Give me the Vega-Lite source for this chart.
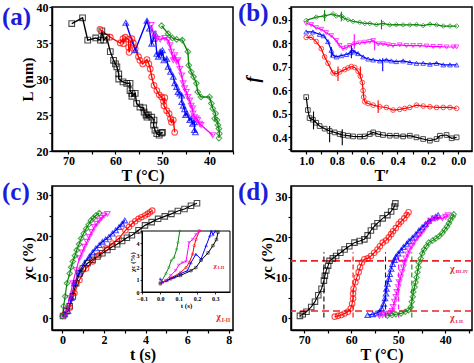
{
"$schema": "https://vega.github.io/schema/vega-lite/v6.json",
"padding": {"left": 1, "top": 0, "right": 0, "bottom": 0},
"background": "white",
"config": {
  "view": {"stroke": "black", "strokeWidth": 1.5},
  "axis": {"labelFont": "Liberation Serif", "labelFontWeight": "bold", "labelFontSize": 12, "labelColor": "black", "titleFont": "Liberation Serif", "titleFontWeight": "bold", "titleFontSize": 16, "titleColor": "black", "domainColor": "black", "domainWidth": 1.5, "tickColor": "black", "tickSize": 3, "tickWidth": 1.2, "grid": false, "labelPadding": 1, "titlePadding": 1, "labelOverlap": false, "labelFlush": false},
  "title": {"anchor": "start", "frame": "group", "font": "Liberation Serif", "fontSize": 25, "fontWeight": "bold", "color": "#1c1cdc"},
  "text": {"font": "Liberation Serif", "fontWeight": "bold", "color": "#e8262a"}
},
"columns": 2,
"align": "each",
"spacing": {"row": -5, "column": 2},
"datasets": {
  "a": [
    {"s":"k","x":69.3,"y":37.7},{"s":"k","x":67.0,"y":38.5},{"s":"k","x":65.9,"y":35.4},{"s":"k","x":64.2,"y":35.7},{"s":"k","x":63.2,"y":35.4},{"s":"k","x":62.9,"y":36.7},{"s":"k","x":62.5,"y":35.4},{"s":"k","x":61.9,"y":35.8},{"s":"k","x":61.1,"y":33.8},{"s":"k","x":60.4,"y":32.6},{"s":"k","x":60.0,"y":32.1},{"s":"k","x":59.7,"y":31.7},{"s":"k","x":59.3,"y":30.7},{"s":"k","x":59.3,"y":30.0},{"s":"k","x":58.4,"y":29.6},{"s":"k","x":57.6,"y":29.4},{"s":"k","x":56.9,"y":29.4},{"s":"k","x":56.9,"y":28.4},{"s":"k","x":56.5,"y":28.0},{"s":"k","x":56.5,"y":27.6},{"s":"k","x":55.8,"y":28.0},{"s":"k","x":55.5,"y":26.6},{"s":"k","x":54.8,"y":26.1},{"s":"k","x":54.0,"y":26.0},{"s":"k","x":53.9,"y":25.4},{"s":"k","x":53.5,"y":25.0},{"s":"k","x":53.3,"y":24.7},{"s":"k","x":53.0,"y":25.0},{"s":"k","x":52.3,"y":24.7},{"s":"k","x":51.8,"y":24.3},{"s":"k","x":51.9,"y":23.6},{"s":"k","x":51.6,"y":22.9},{"s":"k","x":51.2,"y":22.4},{"s":"k","x":50.7,"y":22.2},{"s":"k","x":50.2,"y":22.5},{"s":"k","x":50.0,"y":22.6},
    {"s":"r","x":63.3,"y":36.9},{"s":"r","x":61.1,"y":35.8},{"s":"r","x":59.0,"y":35.0},{"s":"r","x":58.4,"y":35.6},{"s":"r","x":58.3,"y":34.9},{"s":"r","x":57.9,"y":35.8},{"s":"r","x":57.2,"y":35.5},{"s":"r","x":57.2,"y":34.4},{"s":"r","x":57.1,"y":33.7},{"s":"r","x":56.5,"y":35.6},{"s":"r","x":56.2,"y":35.0},{"s":"r","x":55.8,"y":34.2},{"s":"r","x":55.1,"y":33.1},{"s":"r","x":54.8,"y":32.6},{"s":"r","x":54.2,"y":32.1},{"s":"r","x":53.3,"y":32.7},{"s":"r","x":52.9,"y":32.1},{"s":"r","x":52.6,"y":31.4},{"s":"r","x":52.3,"y":30.3},{"s":"r","x":51.8,"y":29.1},{"s":"r","x":51.2,"y":28.4},{"s":"r","x":50.7,"y":27.8},{"s":"r","x":50.2,"y":27.5},{"s":"r","x":49.8,"y":26.9},{"s":"r","x":49.5,"y":27.4},{"s":"r","x":49.7,"y":26.3},{"s":"r","x":49.1,"y":25.6},{"s":"r","x":48.6,"y":25.2},{"s":"r","x":48.3,"y":24.5},{"s":"r","x":48.1,"y":24.0},{"s":"r","x":47.7,"y":24.3},{"s":"r","x":47.4,"y":22.6},
    {"s":"b","x":57.8,"y":37.8},{"s":"b","x":55.8,"y":34.0},{"s":"b","x":53.3,"y":38.1},{"s":"b","x":52.8,"y":37.0},{"s":"b","x":52.3,"y":34.9},{"s":"b","x":51.9,"y":35.6},{"s":"b","x":51.6,"y":36.3},{"s":"b","x":51.2,"y":33.5},{"s":"b","x":50.9,"y":33.1},{"s":"b","x":50.5,"y":33.8},{"s":"b","x":50.2,"y":33.3},{"s":"b","x":50.0,"y":34.0},{"s":"b","x":49.7,"y":32.6},{"s":"b","x":49.1,"y":32.8},{"s":"b","x":48.8,"y":31.7},{"s":"b","x":48.3,"y":31.0},{"s":"b","x":47.7,"y":30.3},{"s":"b","x":47.4,"y":29.4},{"s":"b","x":47.0,"y":28.9},{"s":"b","x":46.7,"y":28.2},{"s":"b","x":46.3,"y":28.0},{"s":"b","x":45.9,"y":27.7},{"s":"b","x":45.9,"y":26.8},{"s":"b","x":45.6,"y":26.3},{"s":"b","x":45.3,"y":25.8},{"s":"b","x":45.1,"y":25.0},{"s":"b","x":44.8,"y":25.2},{"s":"b","x":44.2,"y":24.3},{"s":"b","x":43.9,"y":24.5},{"s":"b","x":43.6,"y":23.8},{"s":"b","x":43.2,"y":24.0},{"s":"b","x":43.2,"y":22.9},{"s":"b","x":43.0,"y":22.6},
    {"s":"m","x":52.4,"y":37.5},{"s":"m","x":51.9,"y":36.3},{"s":"m","x":51.2,"y":35.6},{"s":"m","x":50.5,"y":35.5},{"s":"m","x":49.5,"y":35.7},{"s":"m","x":48.8,"y":35.4},{"s":"m","x":48.4,"y":34.7},{"s":"m","x":48.1,"y":33.8},{"s":"m","x":47.7,"y":32.6},{"s":"m","x":47.4,"y":33.3},{"s":"m","x":47.0,"y":32.4},{"s":"m","x":46.7,"y":32.6},{"s":"m","x":46.3,"y":31.4},{"s":"m","x":45.9,"y":30.5},{"s":"m","x":45.6,"y":29.4},{"s":"m","x":45.3,"y":28.7},{"s":"m","x":44.9,"y":28.2},{"s":"m","x":44.6,"y":27.5},{"s":"m","x":44.2,"y":27.0},{"s":"m","x":43.9,"y":26.3},{"s":"m","x":43.6,"y":25.9},{"s":"m","x":43.5,"y":25.2},{"s":"m","x":43.2,"y":24.7},{"s":"m","x":42.8,"y":24.5},{"s":"m","x":42.5,"y":24.3},{"s":"m","x":42.1,"y":23.8},{"s":"m","x":41.8,"y":23.6},{"s":"m","x":39.3,"y":22.2},
    {"s":"g","x":50.2,"y":37.4},{"s":"g","x":48.8,"y":36.3},{"s":"g","x":47.9,"y":35.7},{"s":"g","x":47.0,"y":35.5},{"s":"g","x":45.8,"y":35.4},{"s":"g","x":44.6,"y":33.8},{"s":"g","x":44.4,"y":31.9},{"s":"g","x":43.9,"y":31.0},{"s":"g","x":43.4,"y":30.3},{"s":"g","x":42.8,"y":29.4},{"s":"g","x":42.5,"y":28.2},{"s":"g","x":41.8,"y":27.5},{"s":"g","x":40.0,"y":27.5},{"s":"g","x":39.6,"y":26.6},{"s":"g","x":39.3,"y":25.9},{"s":"g","x":38.7,"y":25.2},{"s":"g","x":38.9,"y":24.5},{"s":"g","x":38.4,"y":24.3},{"s":"g","x":38.2,"y":23.6},{"s":"g","x":38.0,"y":23.1},{"s":"g","x":37.9,"y":22.4},{"s":"g","x":38.0,"y":21.8}
  ],
  "b": [
    {"s":"k","x":1.0,"y":0.571},{"s":"k","x":0.989,"y":0.516},{"s":"k","x":0.978,"y":0.482},{"s":"k","x":0.956,"y":0.475},{"s":"k","x":0.934,"y":0.462},{"s":"k","x":0.912,"y":0.448},{"s":"k","x":0.879,"y":0.437},{"s":"k","x":0.846,"y":0.427},{"s":"k","x":0.813,"y":0.421},{"s":"k","x":0.78,"y":0.414},{"s":"k","x":0.758,"y":0.41},{"s":"k","x":0.725,"y":0.407},{"s":"k","x":0.692,"y":0.404},{"s":"k","x":0.648,"y":0.403},{"s":"k","x":0.615,"y":0.404},{"s":"k","x":0.582,"y":0.414},{"s":"k","x":0.56,"y":0.421},{"s":"k","x":0.527,"y":0.414},{"s":"k","x":0.495,"y":0.41},{"s":"k","x":0.451,"y":0.407},{"s":"k","x":0.407,"y":0.407},{"s":"k","x":0.363,"y":0.404},{"s":"k","x":0.319,"y":0.407},{"s":"k","x":0.275,"y":0.4},{"s":"k","x":0.231,"y":0.393},{"s":"k","x":0.187,"y":0.386},{"s":"k","x":0.143,"y":0.393},{"s":"k","x":0.121,"y":0.407},{"s":"k","x":0.077,"y":0.41},{"s":"k","x":0.044,"y":0.396},{"s":"k","x":0.011,"y":0.4},
    {"s":"r","x":1.0,"y":0.825},{"s":"r","x":0.967,"y":0.825},{"s":"r","x":0.934,"y":0.807},{"s":"r","x":0.901,"y":0.777},{"s":"r","x":0.879,"y":0.742},{"s":"r","x":0.857,"y":0.715},{"s":"r","x":0.824,"y":0.674},{"s":"r","x":0.802,"y":0.67},{"s":"r","x":0.78,"y":0.678},{"s":"r","x":0.747,"y":0.688},{"s":"r","x":0.725,"y":0.695},{"s":"r","x":0.703,"y":0.701},{"s":"r","x":0.681,"y":0.697},{"s":"r","x":0.659,"y":0.681},{"s":"r","x":0.644,"y":0.66},{"s":"r","x":0.631,"y":0.633},{"s":"r","x":0.626,"y":0.599},{"s":"r","x":0.622,"y":0.571},{"s":"r","x":0.615,"y":0.551},{"s":"r","x":0.593,"y":0.544},{"s":"r","x":0.56,"y":0.537},{"s":"r","x":0.516,"y":0.53},{"s":"r","x":0.473,"y":0.527},{"s":"r","x":0.429,"y":0.516},{"s":"r","x":0.385,"y":0.519},{"s":"r","x":0.352,"y":0.523},{"s":"r","x":0.319,"y":0.527},{"s":"r","x":0.275,"y":0.537},{"s":"r","x":0.231,"y":0.533},{"s":"r","x":0.187,"y":0.53},{"s":"r","x":0.143,"y":0.527},{"s":"r","x":0.099,"y":0.527},{"s":"r","x":0.055,"y":0.527},{"s":"r","x":0.011,"y":0.523},
    {"s":"b","x":1.0,"y":0.848},{"s":"b","x":0.956,"y":0.848},{"s":"b","x":0.912,"y":0.838},{"s":"b","x":0.886,"y":0.832},{"s":"b","x":0.857,"y":0.807},{"s":"b","x":0.835,"y":0.77},{"s":"b","x":0.824,"y":0.749},{"s":"b","x":0.802,"y":0.742},{"s":"b","x":0.769,"y":0.747},{"s":"b","x":0.736,"y":0.752},{"s":"b","x":0.71,"y":0.76},{"s":"b","x":0.697,"y":0.77},{"s":"b","x":0.681,"y":0.763},{"s":"b","x":0.659,"y":0.756},{"s":"b","x":0.626,"y":0.742},{"s":"b","x":0.593,"y":0.733},{"s":"b","x":0.56,"y":0.729},{"s":"b","x":0.516,"y":0.725},{"s":"b","x":0.473,"y":0.729},{"s":"b","x":0.44,"y":0.725},{"s":"b","x":0.407,"y":0.722},{"s":"b","x":0.363,"y":0.725},{"s":"b","x":0.319,"y":0.719},{"s":"b","x":0.275,"y":0.715},{"s":"b","x":0.231,"y":0.715},{"s":"b","x":0.187,"y":0.711},{"s":"b","x":0.143,"y":0.715},{"s":"b","x":0.099,"y":0.708},{"s":"b","x":0.055,"y":0.708},{"s":"b","x":0.011,"y":0.708},
    {"s":"m","x":1.0,"y":0.884},{"s":"m","x":0.967,"y":0.879},{"s":"m","x":0.934,"y":0.866},{"s":"m","x":0.901,"y":0.859},{"s":"m","x":0.868,"y":0.845},{"s":"m","x":0.835,"y":0.832},{"s":"m","x":0.802,"y":0.811},{"s":"m","x":0.78,"y":0.79},{"s":"m","x":0.758,"y":0.777},{"s":"m","x":0.736,"y":0.781},{"s":"m","x":0.714,"y":0.79},{"s":"m","x":0.681,"y":0.797},{"s":"m","x":0.648,"y":0.801},{"s":"m","x":0.615,"y":0.804},{"s":"m","x":0.582,"y":0.807},{"s":"m","x":0.56,"y":0.811},{"s":"m","x":0.527,"y":0.797},{"s":"m","x":0.495,"y":0.797},{"s":"m","x":0.462,"y":0.793},{"s":"m","x":0.429,"y":0.79},{"s":"m","x":0.385,"y":0.793},{"s":"m","x":0.341,"y":0.79},{"s":"m","x":0.297,"y":0.79},{"s":"m","x":0.253,"y":0.79},{"s":"m","x":0.209,"y":0.788},{"s":"m","x":0.165,"y":0.786},{"s":"m","x":0.121,"y":0.786},{"s":"m","x":0.077,"y":0.784},{"s":"m","x":0.033,"y":0.784},{"s":"m","x":0.011,"y":0.784},
    {"s":"g","x":1.0,"y":0.897},{"s":"g","x":0.934,"y":0.911},{"s":"g","x":0.879,"y":0.916},{"s":"g","x":0.824,"y":0.925},{"s":"g","x":0.802,"y":0.916},{"s":"g","x":0.769,"y":0.916},{"s":"g","x":0.754,"y":0.907},{"s":"g","x":0.725,"y":0.9},{"s":"g","x":0.692,"y":0.893},{"s":"g","x":0.648,"y":0.889},{"s":"g","x":0.615,"y":0.884},{"s":"g","x":0.582,"y":0.884},{"s":"g","x":0.538,"y":0.879},{"s":"g","x":0.495,"y":0.884},{"s":"g","x":0.451,"y":0.878},{"s":"g","x":0.407,"y":0.879},{"s":"g","x":0.363,"y":0.878},{"s":"g","x":0.319,"y":0.878},{"s":"g","x":0.275,"y":0.879},{"s":"g","x":0.231,"y":0.875},{"s":"g","x":0.187,"y":0.881},{"s":"g","x":0.143,"y":0.878},{"s":"g","x":0.099,"y":0.873},{"s":"g","x":0.055,"y":0.873},{"s":"g","x":0.011,"y":0.873}
  ],
  "bb": [
    {"s":"g","x":0.879,"y":0.893,"y2":0.941},{"s":"g","x":0.769,"y":0.893,"y2":0.934},{"s":"g","x":0.505,"y":0.859,"y2":0.9},
    {"s":"m","x":0.684,"y":0.777,"y2":0.838},{"s":"m","x":0.55,"y":0.77,"y2":0.81},
    {"s":"b","x":0.835,"y":0.742,"y2":0.784},{"s":"b","x":0.703,"y":0.736,"y2":0.79},{"s":"b","x":0.497,"y":0.681,"y2":0.736},
    {"s":"r","x":0.791,"y":0.64,"y2":0.701},{"s":"r","x":0.644,"y":0.653,"y2":0.701},{"s":"r","x":0.527,"y":0.503,"y2":0.558},
    {"s":"k","x":0.952,"y":0.434,"y2":0.51},{"s":"k","x":0.846,"y":0.379,"y2":0.448},{"s":"k","x":0.763,"y":0.366,"y2":0.434}
  ],
  "c": [
    {"s":"k","x":0.03,"y":0.5},{"s":"k","x":0.19,"y":1.7},{"s":"k","x":0.35,"y":2.9},{"s":"k","x":0.5,"y":5.3},{"s":"k","x":0.66,"y":8.5},{"s":"k","x":0.82,"y":10.9},{"s":"k","x":0.98,"y":12.1},{"s":"k","x":1.21,"y":13.4},{"s":"k","x":1.45,"y":14.2},{"s":"k","x":1.69,"y":15.0},{"s":"k","x":1.92,"y":15.8},{"s":"k","x":2.16,"y":16.6},{"s":"k","x":2.4,"y":17.4},{"s":"k","x":2.63,"y":18.0},{"s":"k","x":2.87,"y":18.8},{"s":"k","x":3.1,"y":19.6},{"s":"k","x":3.34,"y":20.2},{"s":"k","x":3.66,"y":21.4},{"s":"k","x":3.97,"y":22.6},{"s":"k","x":4.29,"y":23.4},{"s":"k","x":4.6,"y":24.2},{"s":"k","x":4.92,"y":24.8},{"s":"k","x":5.24,"y":25.4},{"s":"k","x":5.55,"y":26.1},{"s":"k","x":5.87,"y":26.6},{"s":"k","x":6.18,"y":27.4},{"s":"k","x":6.47,"y":28.0},
    {"s":"r","x":0.11,"y":0.9},{"s":"r","x":0.35,"y":2.5},{"s":"r","x":0.58,"y":6.1},{"s":"r","x":0.82,"y":9.3},{"s":"r","x":1.14,"y":12.1},{"s":"r","x":1.45,"y":13.8},{"s":"r","x":1.77,"y":15.4},{"s":"r","x":2.08,"y":17.0},{"s":"r","x":2.4,"y":18.2},{"s":"r","x":2.71,"y":19.4},{"s":"r","x":3.03,"y":21.4},{"s":"r","x":3.2,"y":22.2},{"s":"r","x":3.34,"y":23.0},{"s":"r","x":3.5,"y":23.6},{"s":"r","x":3.66,"y":24.2},{"s":"r","x":3.8,"y":24.6},{"s":"r","x":3.97,"y":25.0},{"s":"r","x":4.1,"y":25.4},{"s":"r","x":4.21,"y":25.8},{"s":"r","x":4.32,"y":26.2},
    {"s":"b","x":0.11,"y":0.9},{"s":"b","x":0.27,"y":1.7},{"s":"b","x":0.43,"y":4.9},{"s":"b","x":0.58,"y":8.5},{"s":"b","x":0.82,"y":11.3},{"s":"b","x":1.06,"y":13.4},{"s":"b","x":1.29,"y":15.0},{"s":"b","x":1.45,"y":16.0},{"s":"b","x":1.61,"y":17.0},{"s":"b","x":1.77,"y":17.8},{"s":"b","x":1.92,"y":18.6},{"s":"b","x":2.08,"y":19.2},{"s":"b","x":2.24,"y":19.8},{"s":"b","x":2.4,"y":20.6},{"s":"b","x":2.56,"y":21.4},{"s":"b","x":2.72,"y":22.2},{"s":"b","x":2.87,"y":23.0},{"s":"b","x":3.0,"y":23.8},
    {"s":"m","x":0.08,"y":0.5},{"s":"m","x":0.19,"y":2.1},{"s":"m","x":0.35,"y":4.9},{"s":"m","x":0.5,"y":8.5},{"s":"m","x":0.66,"y":11.7},{"s":"m","x":0.82,"y":14.6},{"s":"m","x":0.94,"y":16.0},{"s":"m","x":1.06,"y":17.4},{"s":"m","x":1.18,"y":18.6},{"s":"m","x":1.29,"y":19.8},{"s":"m","x":1.41,"y":21.0},{"s":"m","x":1.53,"y":22.2},{"s":"m","x":1.65,"y":23.0},{"s":"m","x":1.77,"y":23.8},{"s":"m","x":1.88,"y":24.4},{"s":"m","x":2.0,"y":25.0},{"s":"m","x":2.16,"y":25.4},
    {"s":"g","x":0.0,"y":0.5},{"s":"g","x":0.06,"y":2.9},{"s":"g","x":0.13,"y":5.3},{"s":"g","x":0.22,"y":8.5},{"s":"g","x":0.35,"y":10.9},{"s":"g","x":0.42,"y":12.4},{"s":"g","x":0.5,"y":13.8},{"s":"g","x":0.6,"y":15.2},{"s":"g","x":0.69,"y":16.6},{"s":"g","x":0.8,"y":18.0},{"s":"g","x":0.9,"y":19.4},{"s":"g","x":1.02,"y":20.6},{"s":"g","x":1.14,"y":21.8},{"s":"g","x":1.26,"y":22.8},{"s":"g","x":1.37,"y":23.8},{"s":"g","x":1.49,"y":24.4},{"s":"g","x":1.61,"y":25.0},{"s":"g","x":1.77,"y":25.6}
  ],
  "ci": [
    {"s":"k","x":0,"y":0.68},{"s":"k","x":0.056,"y":1.08},{"s":"k","x":0.11,"y":1.35},{"s":"k","x":0.167,"y":1.75},{"s":"k","x":0.194,"y":2.0},{"s":"k","x":0.222,"y":2.6},{"s":"k","x":0.26,"y":3.2},{"s":"k","x":0.287,"y":3.8},{"s":"k","x":0.306,"y":4.3},{"s":"k","x":0.315,"y":4.9},
    {"s":"r","x":0,"y":0.8},{"s":"r","x":0.03,"y":0.9},{"s":"r","x":0.065,"y":1.2},{"s":"r","x":0.11,"y":1.6},{"s":"r","x":0.14,"y":2.0},{"s":"r","x":0.157,"y":2.4},{"s":"r","x":0.176,"y":3.1},{"s":"r","x":0.185,"y":3.8},{"s":"r","x":0.194,"y":4.3},{"s":"r","x":0.213,"y":5.0},
    {"s":"b","x":0,"y":1.08},{"s":"b","x":0.01,"y":0.8},{"s":"b","x":0.037,"y":0.95},{"s":"b","x":0.074,"y":1.2},{"s":"b","x":0.11,"y":1.5},{"s":"b","x":0.148,"y":1.75},{"s":"b","x":0.167,"y":2.4},{"s":"b","x":0.194,"y":3.1},{"s":"b","x":0.222,"y":2.7},{"s":"b","x":0.25,"y":3.8},{"s":"b","x":0.27,"y":4.6},{"s":"b","x":0.278,"y":5.0},{"s":"b","x":0.287,"y":4.7},{"s":"b","x":0.3,"y":5.0},
    {"s":"m","x":0,"y":0.68},{"s":"m","x":0.03,"y":0.95},{"s":"m","x":0.056,"y":1.35},{"s":"m","x":0.083,"y":1.75},{"s":"m","x":0.1,"y":2.2},{"s":"m","x":0.12,"y":2.4},{"s":"m","x":0.14,"y":2.5},{"s":"m","x":0.157,"y":4.05},{"s":"m","x":0.176,"y":4.3},{"s":"m","x":0.194,"y":4.7},{"s":"m","x":0.213,"y":5.0},
    {"s":"g","x":0,"y":0.68},{"s":"g","x":0.03,"y":1.5},{"s":"g","x":0.046,"y":2.0},{"s":"g","x":0.06,"y":2.6},{"s":"g","x":0.074,"y":2.8},{"s":"g","x":0.089,"y":3.5},{"s":"g","x":0.096,"y":4.05},{"s":"g","x":0.106,"y":5.0}
  ],
  "d": [
    {"s":"k","x":70.9,"y":0.6},{"s":"k","x":70.3,"y":1.0},{"s":"k","x":69.5,"y":1.6},{"s":"k","x":68.5,"y":2.8},{"s":"k","x":67.7,"y":4.1},{"s":"k","x":67.0,"y":5.7},{"s":"k","x":66.3,"y":7.3},{"s":"k","x":65.8,"y":9.3},{"s":"k","x":65.6,"y":10.5},{"s":"k","x":65.3,"y":11.8},{"s":"k","x":64.9,"y":13.0},{"s":"k","x":64.6,"y":14.2},{"s":"k","x":63.9,"y":14.8},{"s":"k","x":63.2,"y":15.4},{"s":"k","x":62.3,"y":16.2},{"s":"k","x":61.4,"y":17.0},{"s":"k","x":60.4,"y":17.8},{"s":"k","x":59.3,"y":18.7},{"s":"k","x":58.2,"y":19.1},{"s":"k","x":57.2,"y":19.5},{"s":"k","x":56.5,"y":20.5},{"s":"k","x":55.8,"y":21.7},{"s":"k","x":55.1,"y":22.7},{"s":"k","x":54.4,"y":23.5},{"s":"k","x":53.3,"y":24.7},{"s":"k","x":52.3,"y":25.5},{"s":"k","x":51.5,"y":26.4},{"s":"k","x":50.8,"y":27.6},{"s":"k","x":50.6,"y":28.4},
    {"s":"r","x":63.5,"y":0.4},{"s":"r","x":62.8,"y":0.6},{"s":"r","x":62.1,"y":0.8},{"s":"r","x":61.4,"y":1.2},{"s":"r","x":60.7,"y":1.6},{"s":"r","x":60.1,"y":2.4},{"s":"r","x":59.8,"y":3.6},{"s":"r","x":59.6,"y":4.9},{"s":"r","x":59.6,"y":6.1},{"s":"r","x":59.5,"y":7.3},{"s":"r","x":59.1,"y":8.9},{"s":"r","x":58.8,"y":10.1},{"s":"r","x":58.4,"y":11.4},{"s":"r","x":58.1,"y":12.6},{"s":"r","x":57.7,"y":13.8},{"s":"r","x":57.2,"y":14.6},{"s":"r","x":56.5,"y":14.8},{"s":"r","x":55.8,"y":15.4},{"s":"r","x":55.1,"y":16.2},{"s":"r","x":54.4,"y":17.0},{"s":"r","x":53.9,"y":17.8},{"s":"r","x":53.3,"y":18.7},{"s":"r","x":52.6,"y":19.2},{"s":"r","x":52.0,"y":20.0},{"s":"r","x":51.5,"y":20.8},{"s":"r","x":51.1,"y":21.5},{"s":"r","x":50.5,"y":22.3},{"s":"r","x":49.9,"y":23.3},{"s":"r","x":49.4,"y":23.9},{"s":"r","x":48.7,"y":24.7},{"s":"r","x":48.2,"y":25.5},{"s":"r","x":47.8,"y":26.2},
    {"s":"b","x":56.5,"y":0.8},{"s":"b","x":55.4,"y":1.0},{"s":"b","x":54.7,"y":1.2},{"s":"b","x":54.0,"y":1.6},{"s":"b","x":53.5,"y":2.4},{"s":"b","x":53.1,"y":3.6},{"s":"b","x":52.8,"y":4.9},{"s":"b","x":52.6,"y":6.1},{"s":"b","x":52.5,"y":7.3},{"s":"b","x":52.3,"y":8.5},{"s":"b","x":52.0,"y":9.7},{"s":"b","x":51.8,"y":10.9},{"s":"b","x":51.5,"y":12.2},{"s":"b","x":51.2,"y":13.4},{"s":"b","x":50.8,"y":14.4},{"s":"b","x":50.5,"y":15.2},{"s":"b","x":50.0,"y":16.0},{"s":"b","x":49.4,"y":16.8},{"s":"b","x":48.9,"y":17.6},{"s":"b","x":48.2,"y":18.4},{"s":"b","x":47.7,"y":19.1},{"s":"b","x":47.0,"y":19.9},{"s":"b","x":46.3,"y":20.7},{"s":"b","x":45.6,"y":21.7},{"s":"b","x":44.9,"y":22.5},{"s":"b","x":44.2,"y":23.3},{"s":"b","x":43.5,"y":24.1},{"s":"b","x":42.7,"y":24.7},{"s":"b","x":42.0,"y":25.1},{"s":"b","x":41.5,"y":25.5},
    {"s":"m","x":54.0,"y":0.6},{"s":"m","x":53.3,"y":0.8},{"s":"m","x":52.6,"y":1.0},{"s":"m","x":51.9,"y":1.2},{"s":"m","x":51.3,"y":1.8},{"s":"m","x":51.1,"y":2.8},{"s":"m","x":50.8,"y":4.1},{"s":"m","x":50.5,"y":5.3},{"s":"m","x":50.3,"y":6.5},{"s":"m","x":50.0,"y":7.7},{"s":"m","x":49.8,"y":8.9},{"s":"m","x":49.5,"y":10.1},{"s":"m","x":49.2,"y":11.4},{"s":"m","x":48.9,"y":12.6},{"s":"m","x":48.7,"y":13.8},{"s":"m","x":48.4,"y":14.8},{"s":"m","x":48.0,"y":15.8},{"s":"m","x":47.7,"y":16.8},{"s":"m","x":47.1,"y":17.8},{"s":"m","x":46.6,"y":18.8},{"s":"m","x":45.9,"y":19.9},{"s":"m","x":45.2,"y":20.8},{"s":"m","x":44.5,"y":21.9},{"s":"m","x":43.8,"y":23.1},{"s":"m","x":43.1,"y":24.1},{"s":"m","x":42.4,"y":24.7},{"s":"m","x":41.7,"y":24.7},{"s":"m","x":40.6,"y":24.7},{"s":"m","x":39.9,"y":25.1},{"s":"m","x":39.4,"y":25.5},
    {"s":"g","x":52.3,"y":0.6},{"s":"g","x":51.3,"y":0.8},{"s":"g","x":50.5,"y":1.0},{"s":"g","x":49.4,"y":1.2},{"s":"g","x":48.5,"y":1.6},{"s":"g","x":47.8,"y":2.0},{"s":"g","x":47.3,"y":2.8},{"s":"g","x":47.1,"y":4.1},{"s":"g","x":46.9,"y":5.3},{"s":"g","x":46.8,"y":6.5},{"s":"g","x":46.5,"y":7.7},{"s":"g","x":46.3,"y":8.9},{"s":"g","x":46.1,"y":10.1},{"s":"g","x":45.9,"y":11.4},{"s":"g","x":45.7,"y":12.6},{"s":"g","x":45.6,"y":13.8},{"s":"g","x":45.2,"y":14.8},{"s":"g","x":44.9,"y":16.0},{"s":"g","x":44.5,"y":17.0},{"s":"g","x":44.0,"y":17.8},{"s":"g","x":43.5,"y":18.7},{"s":"g","x":42.7,"y":19.2},{"s":"g","x":42.0,"y":19.7},{"s":"g","x":41.3,"y":20.3},{"s":"g","x":40.6,"y":21.1},{"s":"g","x":40.1,"y":21.9},{"s":"g","x":39.6,"y":22.7},{"s":"g","x":39.2,"y":23.5},{"s":"g","x":38.9,"y":24.3},{"s":"g","x":38.4,"y":25.1},{"s":"g","x":38.2,"y":25.7}
  ],
  "dv": [
    {"s":"k","x":65.8,"y":0.2,"y2":16.3},{"s":"r","x":59.6,"y":0.2,"y2":16.3},{"s":"b","x":52.7,"y":0.2,"y2":16.3},{"s":"m","x":49.9,"y":0.2,"y2":16.3},{"s":"g","x":47.1,"y":0.2,"y2":16.3}
  ],
  "hc": [{"y":2.3}],
  "hd": [{"y":14.2},{"y":1.8}],
  "hi": [{"y":2.5}],
  "lc": [{"x":7.4,"y":0.2,"t":"χ","sub":"I-II"}],
  "ld": [{"x":39.0,"y":12.2,"t":"χ","sub":"III-IV"},{"x":39.0,"y":0.0,"t":"χ","sub":"I-II"}],
  "li": [{"x":0.29,"y":2.1,"t":"χ","sub":"I-II"}],
  "box": [{"x":-0.1,"x2":0.38,"y":0,"y2":5}]
},
"concat": [
  {
    "width": 181, "height": 144,
    "title": {"text": "(a)", "dx": -50, "offset": -29},
    "data": {"name": "a"},
    "encoding": {
      "x": {"field": "x", "type": "quantitative", "scale": {"domain": [35, 73.5], "reverse": true, "nice": false, "zero": false}, "axis": {"title": "T (°C)", "values": [35,40,45,50,55,60,65,70], "labelExpr": "datum.value % 10 === 0 ? datum.label : ''"}},
      "y": {"field": "y", "type": "quantitative", "scale": {"domain": [20, 40], "nice": false, "zero": false}, "axis": {"title": "L (nm)", "titleFontSize": 15, "values": [20,22.5,25,27.5,30,32.5,35,37.5,40], "labelExpr": "datum.value % 5 === 0 ? datum.label : ''"}},
      "color": {"field": "s", "type": "nominal", "scale": {"domain": ["k","r","b","m","g"], "range": ["#000000","#ff0000","#0000ff","#ff00ff","#0a870a"]}, "legend": null}
    },
    "layer": [
      {"mark": {"type": "line", "strokeWidth": 1.4}, "encoding": {"order": {"value": null}}},
      {"mark": {"type": "point", "size": 32, "strokeWidth": 1.1, "filled": false}, "encoding": {"shape": {"field": "s", "type": "nominal", "scale": {"domain": ["k","r","b","m","g"], "range": ["square","circle","triangle-up","triangle-down","diamond"]}, "legend": null}}}
    ]
  },
  {
    "width": 181, "height": 144,
    "title": {"text": "(b)", "dx": -53, "offset": -24},
    "encoding": {
      "x": {"field": "x", "type": "quantitative", "scale": {"domain": [-0.09, 1.1], "reverse": true, "nice": false, "zero": false}, "axis": {"title": "T′", "values": [0,0.1,0.2,0.3,0.4,0.5,0.6,0.7,0.8,0.9,1.0], "labelExpr": "round(datum.value*10) % 2 === 0 ? format(datum.value, '.1f') : ''"}},
      "y": {"field": "y", "type": "quantitative", "scale": {"domain": [0.342, 0.954], "nice": false, "zero": false}, "axis": {"title": "f", "titleFontStyle": "italic", "titleFontSize": 18, "titlePadding": 10, "values": [0.35,0.4,0.45,0.5,0.55,0.6,0.65,0.7,0.75,0.8,0.85,0.9,0.95], "labelExpr": "round(datum.value*100) % 10 === 0 ? format(datum.value, '.1f') : ''"}},
      "color": {"field": "s", "type": "nominal", "scale": {"domain": ["k","r","b","m","g"], "range": ["#000000","#ff0000","#0000ff","#ff00ff","#0a870a"]}, "legend": null}
    },
    "layer": [
      {"data": {"name": "bb"}, "mark": {"type": "rule", "strokeWidth": 1.1}, "encoding": {"y2": {"field": "y2"}}},
      {"data": {"name": "b"}, "mark": {"type": "line", "strokeWidth": 1.2}, "encoding": {"order": {"value": null}}},
      {"data": {"name": "b"}, "mark": {"type": "point", "size": 22, "strokeWidth": 1, "filled": false}, "encoding": {"shape": {"field": "s", "type": "nominal", "scale": {"domain": ["k","r","b","m","g"], "range": ["square","circle","triangle-up","triangle-down","diamond"]}, "legend": null}}}
    ]
  },
  {
    "width": 181, "height": 144,
    "title": {"text": "(c)", "dx": -50, "offset": -19},
    "layer": [
      {
        "layer": [
          {"data": {"name": "hc"}, "mark": {"type": "rule", "color": "#e8262a", "strokeWidth": 1.6, "strokeDash": [7, 4]}, "encoding": {"y": {"field": "y", "type": "quantitative"}}},
          {"data": {"name": "c"}, "mark": {"type": "line", "strokeWidth": 1.2}, "encoding": {"x": {"field": "x", "type": "quantitative"}, "y": {"field": "y", "type": "quantitative"}, "order": {"value": null}, "color": {"field": "s", "type": "nominal", "scale": {"domain": ["k","r","b","m","g"], "range": ["#000000","#ff0000","#0000ff","#ff00ff","#0a870a"]}, "legend": null}}},
          {"data": {"name": "c"}, "mark": {"type": "point", "size": 30, "strokeWidth": 1.1, "filled": false}, "encoding": {"x": {"field": "x", "type": "quantitative"}, "y": {"field": "y", "type": "quantitative"}, "color": {"field": "s", "type": "nominal", "scale": {"domain": ["k","r","b","m","g"], "range": ["#000000","#ff0000","#0000ff","#ff00ff","#0a870a"]}, "legend": null}, "shape": {"field": "s", "type": "nominal", "scale": {"domain": ["k","r","b","m","g"], "range": ["square","circle","triangle-up","triangle-down","diamond"]}, "legend": null}}},
          {"data": {"name": "lc"}, "mark": {"type": "text", "fontSize": 10, "align": "left", "baseline": "middle"}, "encoding": {"x": {"field": "x", "type": "quantitative"}, "y": {"field": "y", "type": "quantitative"}, "text": {"field": "t"}}},
          {"data": {"name": "lc"}, "mark": {"type": "text", "fontSize": 5.5, "align": "left", "baseline": "middle", "dx": 5.5, "dy": 2.5}, "encoding": {"x": {"field": "x", "type": "quantitative"}, "y": {"field": "y", "type": "quantitative"}, "text": {"field": "sub"}}}
        ],
        "encoding": {
          "x": {"field": "x", "type": "quantitative", "scale": {"domain": [-0.5, 8.2], "nice": false, "zero": false}, "axis": {"title": "t (s)", "values": [0,1,2,3,4,5,6,7,8], "labelExpr": "datum.value % 2 === 0 ? datum.label : ''"}},
          "y": {"field": "y", "type": "quantitative", "scale": {"domain": [-2.9, 32.2], "nice": false, "zero": false}, "axis": {"title": "χc (%)", "titleFontSize": 15, "values": [0,5,10,15,20,25,30], "labelExpr": "datum.value % 10 === 0 ? datum.label : ''"}}
        }
      },
      {
        "layer": [
          {"data": {"name": "box"}, "mark": {"type": "rect", "fill": "white", "stroke": "black", "strokeWidth": 1}, "encoding": {"x2": {"field": "x2"}, "y2": {"field": "y2"}}},
          {"data": {"name": "hi"}, "mark": {"type": "rule", "color": "#e8262a", "strokeWidth": 1.2, "strokeDash": [4, 3]}, "encoding": {"x": {"datum": -0.1}, "x2": {"datum": 0.38}}},
          {"data": {"name": "ci"}, "mark": {"type": "line", "strokeWidth": 1}, "encoding": {"order": {"value": null}, "color": {"field": "s", "type": "nominal", "scale": {"domain": ["k","r","b","m","g"], "range": ["#000000","#ff0000","#0000ff","#ff00ff","#0a870a"]}, "legend": null}}},
          {"data": {"name": "ci"}, "mark": {"type": "point", "size": 6, "strokeWidth": 0.8, "filled": false}, "encoding": {"color": {"field": "s", "type": "nominal", "scale": {"domain": ["k","r","b","m","g"], "range": ["#000000","#ff0000","#0000ff","#ff00ff","#0a870a"]}, "legend": null}, "shape": {"field": "s", "type": "nominal", "scale": {"domain": ["k","r","b","m","g"], "range": ["square","circle","triangle-up","triangle-down","diamond"]}, "legend": null}}},
          {"data": {"name": "li"}, "mark": {"type": "text", "fontSize": 7, "align": "left", "baseline": "middle"}, "encoding": {"text": {"field": "t"}}},
          {"data": {"name": "li"}, "mark": {"type": "text", "fontSize": 4.5, "align": "left", "baseline": "middle", "dx": 4, "dy": 2}, "encoding": {"text": {"field": "sub"}}}
        ],
        "encoding": {
          "x": {"field": "x", "type": "quantitative", "scale": {"domain": [-0.1, 0.38], "range": [90, 178], "nice": false, "zero": false}, "axis": {"orient": "bottom", "offset": -38, "zindex": 2, "title": "t (s)", "titleFontSize": 7, "titlePadding": 0, "labelFontSize": 6, "labelPadding": 1, "tickSize": 2, "tickWidth": 0.8, "domainWidth": 1, "values": [-0.1, 0, 0.1, 0.2, 0.3], "format": ".1f"}},
          "y": {"field": "y", "type": "quantitative", "scale": {"domain": [0, 5], "range": [106, 45], "nice": false, "zero": false}, "axis": {"orient": "left", "offset": -90, "zindex": 2, "title": "χc (%)", "titleFontSize": 7, "titlePadding": 1, "labelFontSize": 6, "labelPadding": 1, "tickSize": 2, "tickWidth": 0.8, "domainWidth": 1, "values": [0, 1, 2, 3, 4, 5]}}
        }
      }
    ],
    "resolve": {"scale": {"x": "independent", "y": "independent"}, "axis": {"x": "independent", "y": "independent"}}
  },
  {
    "width": 181, "height": 144,
    "title": {"text": "(d)", "dx": -53, "offset": -19},
    "encoding": {
      "x": {"field": "x", "type": "quantitative", "scale": {"domain": [34.3, 72.8], "reverse": true, "nice": false, "zero": false}, "axis": {"title": "T (°C)", "values": [35,40,45,50,55,60,65,70], "labelExpr": "datum.value % 10 === 0 ? datum.label : ''"}},
      "y": {"field": "y", "type": "quantitative", "scale": {"domain": [-2.9, 32.7], "nice": false, "zero": false}, "axis": {"title": "χc (%)", "titleFontSize": 15, "values": [0,5,10,15,20,25,30], "labelExpr": "datum.value % 10 === 0 ? datum.label : ''"}}
    },
    "layer": [
      {"data": {"name": "hd"}, "mark": {"type": "rule", "color": "#e8262a", "strokeWidth": 1.6, "strokeDash": [7, 4]}, "encoding": {"x": null}},
      {"data": {"name": "dv"}, "mark": {"type": "rule", "strokeWidth": 1.1, "strokeDash": [5, 3]}, "encoding": {"y2": {"field": "y2"}, "color": {"field": "s", "type": "nominal", "scale": {"domain": ["k","r","b","m","g"], "range": ["#000000","#ff0000","#0000ff","#ff00ff","#0a870a"]}, "legend": null}}},
      {"data": {"name": "d"}, "mark": {"type": "line", "strokeWidth": 1.1}, "encoding": {"order": {"value": null}, "color": {"field": "s", "type": "nominal", "scale": {"domain": ["k","r","b","m","g"], "range": ["#000000","#ff0000","#0000ff","#ff00ff","#0a870a"]}, "legend": null}}},
      {"data": {"name": "d"}, "mark": {"type": "point", "size": 30, "strokeWidth": 1.1, "filled": false}, "encoding": {"color": {"field": "s", "type": "nominal", "scale": {"domain": ["k","r","b","m","g"], "range": ["#000000","#ff0000","#0000ff","#ff00ff","#0a870a"]}, "legend": null}, "shape": {"field": "s", "type": "nominal", "scale": {"domain": ["k","r","b","m","g"], "range": ["square","circle","triangle-up","triangle-down","diamond"]}, "legend": null}}},
      {"data": {"name": "ld"}, "mark": {"type": "text", "fontSize": 10, "align": "left", "baseline": "middle"}, "encoding": {"text": {"field": "t"}}},
      {"data": {"name": "ld"}, "mark": {"type": "text", "fontSize": 5, "align": "left", "baseline": "middle", "dx": 5.5, "dy": 2.5}, "encoding": {"text": {"field": "sub"}}}
    ]
  }
]
}
